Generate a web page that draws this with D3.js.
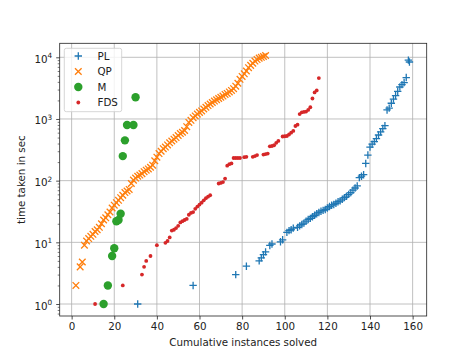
<!DOCTYPE html>
<html><head><meta charset="utf-8">
<script src="https://cdn.jsdelivr.net/npm/d3@7"></script>
<style>body{margin:0;background:#fff}svg{display:block}text{font-family:"DejaVu Sans",sans-serif;fill:#222}</style>
</head><body><svg id="c" width="474" height="355"></svg>
<script>
const xTicks = [0,20,40,60,80,100,120,140,160];
const yTicks = [1,10,100,1000,10000];
const seriesNames = ["PL","QP","M","FDS"];
const colors = ["#1f77b4","#ff7f0e","#2ca02c","#d62728"];

const plX = [31,57,77,82,88,89,90,91,93,94,98,99,101,102,103,104,106,107,108,109,110,111,112,113,114,115,116,117,118,119,120,121,122,123,124,125,126,127,128,129,130,131,132,133,134,135,136,137,138,139,140,141,142,143,144,145,146,147,148,149,150,151,152,153,154,155,156,157,158,158.5];
const plY = [1,2,3,4.1,5,5.6,6.3,7,8.9,9.4,10.2,11,14.5,15.5,16,17,17.5,18.5,19.5,20.5,22,23.5,24.5,26,27.5,29,30.5,32,33,34,36,38,40,41,43,45.5,47,50,53,56,60,64,70,76,82,112,118,125,190,260,350,390,430,480,550,620,700,780,1400,1500,1800,2100,2400,2800,3300,3600,3900,4700,9000,8400];

const qpX = [2,4,5,6,7,8,9,10,11,12,13,14,15,16,17,18,19,20,21,22,23,24,25,26,27,28,29,30,31,32,33,34,35,36,37,38,39,40,41,42,43,44,45,46,47,48,49,50,51,52,53,54,55,56,57,58,59,60,61,62,63,64,65,66,67,68,69,70,71,72,73,74,75,76,77,78,79,80,81,82,83,84,85,86,87,88,89,90,91];
const qpY = [2,4,4.8,9,10.5,11.5,12.5,13.5,15,16,17.5,20,23,25,28,31,36,40,44,48,53,58,64,68,72,90,102,110,118,123,130,140,148,155,165,178,210,240,275,300,330,350,380,410,440,470,500,540,580,610,650,750,880,950,1050,1120,1200,1280,1350,1450,1550,1650,1750,1850,1950,2050,2150,2250,2350,2500,2600,2750,2900,3100,3400,3800,4400,4900,5400,6000,6800,7400,8000,8700,9200,9700,10000,10300,10700];

const mX = [15,17,19,20,21,22,23,24,25,26,29,30];
const mY = [1,2,6,8,22,23,29,250,450,800,800,2250];

const fdsX = [11,24,33,34,35,37,40,44,45,46,47,48,49,50,51,52,53,54,55,56,57,58,59,60,61,62,63,64,65,69,70,71,72,73,74,75,76,77,78,79,81,82,85,86,87,90,91,92,93,94,95,96,97,99,100,101,102,103,104,105,106,107,108,109,110,111,112,113,114,115,116];
const fdsY = [1,2,3,4,5,6,9,9.8,10.5,12,15.5,16,17,18.5,21,22,23,24,28,30,31,35,38,41,44,48,52,55,58,90,92,95,108,175,185,190,233,233,233,233,240,243,243,250,260,265,270,275,360,365,375,410,440,520,525,530,560,600,640,770,810,1200,1280,1300,1320,1400,1550,2150,2700,2900,4600];

const L = 59.7, R = 426.7, T = 43.3, B = 316;
const svg = d3.select("#c");
const x = d3.scaleLinear().domain([-5.6,166.6]).range([L,R]);
const y = d3.scaleLog().domain([0.639,16870]).range([B,T]);

// grid
const g = svg.append("g");
g.selectAll(".gx").data(xTicks).enter().append("line")
 .attr("x1",d=>x(d)).attr("x2",d=>x(d)).attr("y1",T).attr("y2",B)
 .attr("stroke","#b0b0b0").attr("stroke-width",0.8);
g.selectAll(".gy").data(yTicks).enter().append("line")
 .attr("y1",d=>y(d)).attr("y2",d=>y(d)).attr("x1",L).attr("x2",R)
 .attr("stroke","#b0b0b0").attr("stroke-width",0.8);

// axes
const xAxis = d3.axisBottom(x).tickValues(xTicks).tickSize(3.5).tickPadding(3);
const gx = svg.append("g").attr("transform",`translate(0,${B})`).call(xAxis);
gx.select(".domain").remove();
gx.selectAll("text").attr("font-size",10.3).attr("font-family","DejaVu Sans").attr("fill","#222");
gx.selectAll("line").attr("stroke","#222").attr("stroke-width",0.8);

const minor = [];
for (let e=-1;e<=4;e++) for (let k=2;k<=9;k++){const v=k*Math.pow(10,e); if(v>0.639&&v<16870) minor.push(v);}
const yAxisMinor = d3.axisLeft(y).tickValues(minor).tickSize(2).tickFormat("");
const gym = svg.append("g").attr("transform",`translate(${L},0)`).call(yAxisMinor);
gym.select(".domain").remove();
gym.selectAll("line").attr("stroke","#222").attr("stroke-width",0.6);

const yAxis = d3.axisLeft(y).tickValues(yTicks).tickSize(3.5).tickFormat("");
const gy = svg.append("g").attr("transform",`translate(${L},0)`).call(yAxis);
gy.select(".domain").remove();
gy.selectAll("line").attr("stroke","#222").attr("stroke-width",0.8);
yTicks.forEach(v=>{
  const t = svg.append("text").attr("x",L-7.5).attr("y",y(v)+5.5).attr("text-anchor","end").attr("font-size",10.3);
  t.append("tspan").text("10");
  t.append("tspan").attr("font-size",7.3).attr("dy",-4.5).text(Math.round(Math.log10(v)));
});

// frame
svg.append("rect").attr("x",L).attr("y",T).attr("width",R-L).attr("height",B-T)
 .attr("fill","none").attr("stroke","#222").attr("stroke-width",0.8);

// labels
svg.append("text").attr("x",(L+R)/2).attr("y",346).attr("text-anchor","middle").attr("font-size",10.3).text("Cumulative instances solved");
svg.append("text").attr("transform",`translate(25,${(T+B)/2}) rotate(-90)`).attr("text-anchor","middle").attr("font-size",10.3).text("time taken in sec");

// markers
const plus = "M-3.7,0H3.7M0,-3.7V3.7";
const cross = "M-3.3,-3.3L3.3,3.3M-3.3,3.3L3.3,-3.3";
function drawSeries(xs, ys, i){
  const data = xs.map((v,j)=>[v,ys[j]]);
  const gg = svg.append("g");
  if(i===0||i===1){
    gg.selectAll("path").data(data).enter().append("path")
      .attr("d", i===0?plus:cross)
      .attr("transform",d=>`translate(${x(d[0])},${y(d[1])})`)
      .attr("stroke",colors[i]).attr("stroke-width",1.3).attr("fill","none");
  } else {
    gg.selectAll("circle").data(data).enter().append("circle")
      .attr("cx",d=>x(d[0])).attr("cy",d=>y(d[1])).attr("r", i===2?4.2:1.9)
      .attr("fill",colors[i]);
  }
}
drawSeries(plX,plY,0);
drawSeries(qpX,qpY,1);
drawSeries(mX,mY,2);
drawSeries(fdsX,fdsY,3);

// legend
const lg = svg.append("g");
lg.append("rect").attr("x",64.3).attr("y",48.3).attr("width",57.4).attr("height",63.4).attr("rx",2)
  .attr("fill","#fff").attr("fill-opacity",0.8).attr("stroke","#ccc").attr("stroke-width",0.8);
seriesNames.forEach((n,i)=>{
  const cy = 56 + i*15.5, cx = 78.3;
  if(i===0) lg.append("path").attr("d",plus).attr("transform",`translate(${cx},${cy})`).attr("stroke",colors[0]).attr("stroke-width",1.3);
  else if(i===1) lg.append("path").attr("d",cross).attr("transform",`translate(${cx},${cy})`).attr("stroke",colors[1]).attr("stroke-width",1.3);
  else lg.append("circle").attr("cx",cx).attr("cy",cy).attr("r",i===2?4.2:1.9).attr("fill",colors[i]);
  lg.append("text").attr("x",97.5).attr("y",cy+3.7).attr("font-size",10.3).text(n);
});
</script></body></html>
